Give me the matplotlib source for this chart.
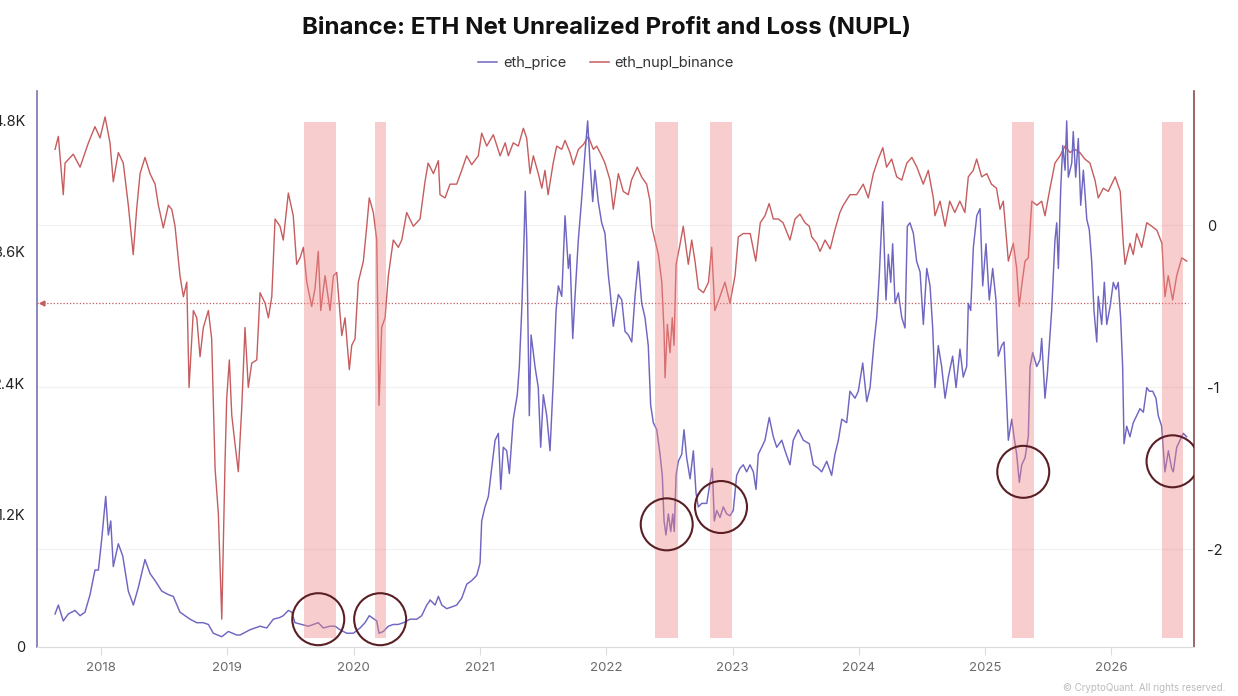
import matplotlib
matplotlib.use("Agg")
import matplotlib.pyplot as plt
from matplotlib.lines import Line2D
from matplotlib.ticker import FuncFormatter
import matplotlib.transforms as mtransforms

plt.rcParams['font.family'] = ['Inter', 'DejaVu Sans']
plt.rcParams['axes.unicode_minus'] = False

title = "Binance: ETH Net Unrealized Profit and Loss (NUPL)"
series_names = ["eth_price", "eth_nupl_binance"]

# ETH price (USD), time in decimal years
price_t = [2017.636, 2017.662, 2017.701, 2017.741, 2017.794, 2017.834, 2017.873, 2017.913, 2017.952, 2017.979,
           2018.006, 2018.037, 2018.058, 2018.077, 2018.097, 2018.137, 2018.172, 2018.216, 2018.256, 2018.295,
           2018.348, 2018.388, 2018.428, 2018.481, 2018.533, 2018.572, 2018.625, 2018.665, 2018.705, 2018.758,
           2018.810, 2018.850, 2018.889, 2018.956, 2019.008, 2019.074, 2019.101, 2019.180, 2019.259, 2019.312,
           2019.364, 2019.417, 2019.443, 2019.483, 2019.510, 2019.536, 2019.589, 2019.641, 2019.681, 2019.720,
           2019.760, 2019.813, 2019.853, 2019.892, 2019.945, 2019.998, 2020.051, 2020.090, 2020.124, 2020.156,
           2020.183, 2020.201, 2020.235, 2020.275, 2020.314, 2020.354, 2020.394, 2020.447, 2020.500, 2020.539,
           2020.579, 2020.599, 2020.605, 2020.645, 2020.671, 2020.698, 2020.737, 2020.777, 2020.816, 2020.856,
           2020.896, 2020.935, 2020.975, 2021.001, 2021.014, 2021.040, 2021.067, 2021.093, 2021.120, 2021.146,
           2021.165, 2021.185, 2021.212, 2021.233, 2021.264, 2021.296, 2021.312, 2021.331, 2021.349, 2021.359,
           2021.371, 2021.383, 2021.391, 2021.405, 2021.423, 2021.436, 2021.462, 2021.481, 2021.502, 2021.529,
           2021.555, 2021.581, 2021.603, 2021.621, 2021.648, 2021.674, 2021.700, 2021.713, 2021.735, 2021.753,
           2021.779, 2021.806, 2021.832, 2021.853, 2021.872, 2021.893, 2021.911, 2021.937, 2021.964, 2021.990,
           2022.017, 2022.030, 2022.056, 2022.096, 2022.123, 2022.149, 2022.175, 2022.202, 2022.228, 2022.254,
           2022.281, 2022.307, 2022.333, 2022.352, 2022.373, 2022.400, 2022.426, 2022.444, 2022.458, 2022.473,
           2022.492, 2022.511, 2022.527, 2022.539, 2022.553, 2022.571, 2022.598, 2022.616, 2022.637, 2022.664,
           2022.690, 2022.711, 2022.729, 2022.756, 2022.796, 2022.822, 2022.840, 2022.856, 2022.875, 2022.901,
           2022.927, 2022.954, 2022.980, 2023.006, 2023.033, 2023.059, 2023.085, 2023.112, 2023.138, 2023.165,
           2023.186, 2023.204, 2023.231, 2023.257, 2023.291, 2023.323, 2023.350, 2023.390, 2023.416, 2023.455,
           2023.481, 2023.521, 2023.561, 2023.608, 2023.640, 2023.679, 2023.706, 2023.746, 2023.785, 2023.811,
           2023.838, 2023.865, 2023.904, 2023.930, 2023.970, 2023.996, 2024.031, 2024.063, 2024.089, 2024.121,
           2024.142, 2024.162, 2024.189, 2024.215, 2024.234, 2024.253, 2024.268, 2024.287, 2024.313, 2024.340,
           2024.366, 2024.384, 2024.405, 2024.432, 2024.458, 2024.485, 2024.511, 2024.538, 2024.564, 2024.585,
           2024.603, 2024.629, 2024.656, 2024.683, 2024.709, 2024.743, 2024.770, 2024.801, 2024.827, 2024.854,
           2024.867, 2024.886, 2024.907, 2024.934, 2024.960, 2024.981, 2025.007, 2025.033, 2025.060, 2025.086,
           2025.104, 2025.131, 2025.150, 2025.171, 2025.184, 2025.211, 2025.229, 2025.250, 2025.271, 2025.290,
           2025.316, 2025.342, 2025.356, 2025.377, 2025.409, 2025.435, 2025.448, 2025.474, 2025.493, 2025.508,
           2025.527, 2025.553, 2025.567, 2025.580, 2025.599, 2025.615, 2025.633, 2025.646, 2025.659, 2025.686,
           2025.698, 2025.717, 2025.738, 2025.757, 2025.778, 2025.805, 2025.825, 2025.844, 2025.862, 2025.884,
           2025.896, 2025.923, 2025.944, 2025.963, 2025.989, 2026.015, 2026.036, 2026.054, 2026.073, 2026.089,
           2026.100, 2026.121, 2026.147, 2026.173, 2026.200, 2026.226, 2026.253, 2026.280, 2026.300, 2026.327,
           2026.353, 2026.371, 2026.398, 2026.424, 2026.451, 2026.477, 2026.490, 2026.517, 2026.543, 2026.569,
           2026.596]
price_v = [297, 378, 233, 297, 329, 281, 313, 473, 697, 697,
           985, 1369, 1017, 1145, 729, 937, 825, 505, 378, 537,
           793, 665, 601, 505, 473, 457, 313, 281, 249, 217,
           217, 201, 121, 89, 137, 105, 105, 153, 185, 169,
           249, 265, 281, 329, 313, 217, 201, 185, 201, 217,
           169, 185, 185, 153, 121, 121, 169, 217, 281, 255,
           233, 121, 137, 185, 201, 201, 217, 249, 249, 281,
           378, 409, 425, 378, 457, 378, 345, 361, 378, 441,
           569, 601, 649, 761, 1145, 1273, 1369, 1625, 1881, 1944,
           1433, 1817, 1785, 1577, 2073, 2296, 2553, 3064, 3704, 4152,
           3704, 2744, 2105, 2841, 2680, 2553, 2361, 1817, 2296, 2105,
           1785, 2425, 3064, 3289, 3193, 3928, 3448, 3576, 2809, 3193,
           3704, 4089, 4504, 4793, 4409, 4057, 4344, 4057, 3864, 3768,
           3384, 3250, 2920, 3210, 3161, 2873, 2841, 2777, 3193, 3512,
           3129, 3000, 2744, 2201, 2041, 1977, 1753, 1561, 1145, 1017,
           1209, 1049, 1209, 1049, 1561, 1689, 1753, 1977, 1721, 1529,
           1785, 1401, 1273, 1305, 1305, 1497, 1625, 1145, 1241, 1177,
           1273, 1209, 1193, 1241, 1561, 1625, 1657, 1593, 1657, 1593,
           1433, 1753, 1817, 1881, 2089, 1913, 1817, 1881, 1785, 1657,
           1881, 1977, 1881, 1849, 1657, 1625, 1593, 1689, 1561, 1753,
           1881, 2073, 2041, 2328, 2264, 2328, 2585, 2233, 2361, 2777,
           3000, 3384, 4057, 3160, 3576, 3321, 3673, 3129, 3225, 3000,
           2905, 3832, 3864, 3768, 3512, 3416, 2937, 3448, 3289, 2905,
           2361, 2744, 2553, 2264, 2457, 2648, 2361, 2712, 2457, 2553,
           3129, 3064, 3640, 3928, 3993, 3289, 3673, 3160, 3448, 3160,
           2648, 2744, 2777, 2233, 1881, 2073, 1913, 1753, 1497, 1657,
           1721, 1913, 2553, 2680, 2553, 2617, 2809, 2264, 2489, 2744,
           3064, 3704, 3864, 3448, 4184, 4568, 4344, 4793, 4280, 4409,
           4696, 4280, 4632, 4024, 4344, 3896, 3800, 3512, 3064, 2777,
           3193, 2937, 3321, 2937, 3096, 3321, 3257, 3321, 3000, 2553,
           1849, 2009, 1913, 2041, 2105, 2169, 2137, 2361, 2328, 2328,
           2264, 2105, 2009, 1593, 1785, 1625, 1593, 1817, 1881, 1944,
           1913]

# Binance ETH NUPL
nupl_t = [2017.636, 2017.662, 2017.701, 2017.715, 2017.780, 2017.834, 2017.900, 2017.952, 2017.992, 2018.032,
          2018.071, 2018.097, 2018.137, 2018.176, 2018.216, 2018.255, 2018.282, 2018.309, 2018.348, 2018.388,
          2018.428, 2018.454, 2018.493, 2018.533, 2018.560, 2018.586, 2018.625, 2018.652, 2018.679, 2018.697,
          2018.731, 2018.758, 2018.784, 2018.810, 2018.850, 2018.876, 2018.903, 2018.929, 2018.956, 2018.982,
          2018.995, 2019.016, 2019.035, 2019.061, 2019.087, 2019.114, 2019.140, 2019.166, 2019.193, 2019.233,
          2019.259, 2019.299, 2019.325, 2019.352, 2019.378, 2019.417, 2019.443, 2019.483, 2019.522, 2019.549,
          2019.576, 2019.602, 2019.629, 2019.668, 2019.694, 2019.720, 2019.740, 2019.774, 2019.813, 2019.840,
          2019.866, 2019.906, 2019.932, 2019.966, 2019.985, 2020.011, 2020.037, 2020.077, 2020.104, 2020.124,
          2020.156, 2020.183, 2020.201, 2020.222, 2020.249, 2020.275, 2020.314, 2020.354, 2020.381, 2020.420,
          2020.473, 2020.526, 2020.565, 2020.590, 2020.632, 2020.671, 2020.684, 2020.724, 2020.763, 2020.816,
          2020.856, 2020.895, 2020.935, 2020.987, 2021.014, 2021.054, 2021.106, 2021.160, 2021.200, 2021.225,
          2021.264, 2021.304, 2021.344, 2021.370, 2021.397, 2021.423, 2021.462, 2021.490, 2021.515, 2021.540,
          2021.580, 2021.608, 2021.648, 2021.674, 2021.713, 2021.740, 2021.780, 2021.820, 2021.858, 2021.898,
          2021.925, 2021.964, 2021.990, 2022.030, 2022.056, 2022.096, 2022.135, 2022.175, 2022.200, 2022.246,
          2022.280, 2022.320, 2022.347, 2022.360, 2022.386, 2022.413, 2022.440, 2022.458, 2022.466, 2022.484,
          2022.505, 2022.523, 2022.537, 2022.553, 2022.580, 2022.610, 2022.650, 2022.677, 2022.703, 2022.730,
          2022.770, 2022.810, 2022.835, 2022.860, 2022.900, 2022.940, 2022.980, 2023.020, 2023.046, 2023.085,
          2023.140, 2023.184, 2023.220, 2023.257, 2023.290, 2023.323, 2023.363, 2023.400, 2023.455, 2023.495,
          2023.534, 2023.574, 2023.608, 2023.627, 2023.667, 2023.693, 2023.733, 2023.773, 2023.810, 2023.850,
          2023.877, 2023.930, 2023.983, 2024.035, 2024.075, 2024.115, 2024.154, 2024.190, 2024.220, 2024.260,
          2024.300, 2024.340, 2024.380, 2024.420, 2024.460, 2024.510, 2024.550, 2024.590, 2024.603, 2024.643,
          2024.683, 2024.720, 2024.760, 2024.800, 2024.840, 2024.867, 2024.906, 2024.933, 2024.973, 2025.013,
          2025.050, 2025.090, 2025.118, 2025.144, 2025.184, 2025.223, 2025.250, 2025.270, 2025.290, 2025.316,
          2025.342, 2025.370, 2025.410, 2025.448, 2025.474, 2025.514, 2025.553, 2025.593, 2025.633, 2025.672,
          2025.710, 2025.750, 2025.790, 2025.830, 2025.870, 2025.896, 2025.936, 2025.975, 2026.030, 2026.070,
          2026.094, 2026.108, 2026.147, 2026.173, 2026.200, 2026.240, 2026.280, 2026.320, 2026.360, 2026.400,
          2026.424, 2026.450, 2026.485, 2026.517, 2026.557, 2026.597]
nupl_v = [0.47, 0.55, 0.19, 0.385, 0.44, 0.36, 0.51, 0.61, 0.54, 0.67,
          0.51, 0.27, 0.45, 0.385, 0.125, -0.18, 0.10, 0.32, 0.42, 0.32,
          0.255, 0.125, -0.015, 0.125, 0.10, -0.005, -0.31, -0.44, -0.35, -1.00,
          -0.525, -0.57, -0.81, -0.63, -0.525, -0.70, -1.50, -1.78, -2.43, -1.455,
          -1.07, -0.83, -1.17, -1.35, -1.52, -1.13, -0.63, -1.00, -0.85, -0.83,
          -0.415, -0.48, -0.57, -0.44, 0.04, -0.005, -0.09, 0.20, 0.06, -0.24,
          -0.20, -0.135, -0.35, -0.50, -0.39, -0.16, -0.525, -0.31, -0.525, -0.31,
          -0.29, -0.68, -0.57, -0.89, -0.74, -0.70, -0.35, -0.22, -0.005, 0.17,
          0.08, -0.09, -1.11, -0.63, -0.57, -0.31, -0.09, -0.135, -0.09, 0.08,
          -0.005, 0.04, 0.27, 0.385, 0.32, 0.40, 0.19, 0.17, 0.255, 0.255,
          0.34, 0.43, 0.375, 0.43, 0.57, 0.49, 0.56, 0.43, 0.51, 0.43,
          0.51, 0.49, 0.60, 0.54, 0.32, 0.43, 0.32, 0.23, 0.34, 0.19,
          0.385, 0.49, 0.47, 0.525, 0.45, 0.375, 0.47, 0.50, 0.55, 0.47,
          0.49, 0.43, 0.385, 0.28, 0.10, 0.32, 0.21, 0.19, 0.28, 0.36,
          0.30, 0.255, 0.15, -0.005, -0.09, -0.18, -0.35, -0.655, -0.94, -0.61,
          -0.785, -0.57, -0.74, -0.24, -0.135, -0.005, -0.24, -0.09, -0.22, -0.39,
          -0.415, -0.35, -0.135, -0.525, -0.44, -0.35, -0.48, -0.31, -0.07, -0.05,
          -0.05, -0.22, 0.017, 0.06, 0.135, 0.04, 0.04, 0.017, -0.09, 0.04,
          0.07, 0.017, -0.005, -0.07, -0.11, -0.16, -0.09, -0.145, -0.03, 0.08,
          0.125, 0.19, 0.19, 0.255, 0.17, 0.32, 0.41, 0.48, 0.36, 0.41,
          0.30, 0.28, 0.385, 0.42, 0.36, 0.255, 0.34, 0.17, 0.06, 0.15,
          -0.005, 0.15, 0.08, 0.15, 0.08, 0.30, 0.34, 0.41, 0.30, 0.32,
          0.255, 0.23, 0.10, 0.15, -0.22, -0.11, -0.265, -0.50, -0.37, -0.22,
          -0.20, 0.15, 0.125, 0.15, 0.06, 0.23, 0.385, 0.43, 0.49, 0.45,
          0.47, 0.45, 0.41, 0.385, 0.28, 0.17, 0.23, 0.21, 0.30, 0.21,
          -0.11, -0.24, -0.11, -0.18, -0.05, -0.135, 0.017, -0.005, -0.03, -0.11,
          -0.44, -0.31, -0.46, -0.31, -0.20, -0.22]

# Highlighted periods (start, end) in decimal years
band_start = [2019.607, 2020.169, 2022.386, 2022.820, 2025.215, 2026.398]
band_end = [2019.861, 2020.253, 2022.566, 2022.998, 2025.390, 2026.570]

# Circled price lows (time, price)
circle_t = [2019.720, 2020.210, 2022.479, 2022.909, 2025.302, 2026.484]
circle_p = [249, 249, 1114, 1272, 1593, 1689]

# Reference NUPL level (dotted line)
nupl_ref = -0.481

year_ticks = [2018, 2019, 2020, 2021, 2022, 2023, 2024, 2025, 2026]
price_ticks = [0, 1200, 2400, 3600, 4800]
nupl_ticks = [0, -1, -2]

PRICE_C = '#6f66c2'
NUPL_C = '#c65c5e'

W, H = 1238, 696
fig = plt.figure(figsize=(W / 100, H / 100), dpi=100)
L, R, T, B = 37, 1194, 91, 646.5
ax = fig.add_axes([L / W, (H - B) / H, (R - L) / W, (B - T) / H])
ax2 = ax.twinx()
ax.set_zorder(ax2.get_zorder() + 1)
ax.patch.set_visible(False)

ax2.plot(nupl_t, nupl_v, color=NUPL_C, lw=1.0, zorder=2)
ax.plot(price_t, price_v, color=PRICE_C, lw=1.05, zorder=2)

ax.set_xlim(2017.493, 2026.654)
ax.set_ylim(0, 5066)
ax2.set_ylim(-2.599, 0.830)

for s, e in zip(band_start, band_end):
    ax.axvspan(s, e, ymin=0.0153, ymax=0.944, color='#f08888', alpha=0.42, lw=0, zorder=3)

ax.scatter(circle_t, circle_p, s=1400, facecolors='none', edgecolors='#5a1f24',
           linewidths=1.5, zorder=5)

ax2.axhline(nupl_ref, xmax=0.995, color=NUPL_C, lw=0.9, ls=(0, (1, 1.6)), zorder=1)
tr = mtransforms.blended_transform_factory(ax2.transAxes, ax2.transData)
ax2.plot([0.004], [nupl_ref], marker='<', ms=3.5, color=NUPL_C, transform=tr,
         clip_on=False, zorder=1)

# grid from NUPL axis
ax2.set_yticks(nupl_ticks)
for v in nupl_ticks:
    ax2.axhline(v, color='#f1f1f1', lw=0.9, zorder=0)

ax.set_xticks(year_ticks)
ax.set_xticklabels([str(y) for y in year_ticks])
ax.set_yticks(price_ticks)
ax.yaxis.set_major_formatter(FuncFormatter(lambda v, p: '0' if v == 0 else f'{v/1000:.1f}K'))
ax2.yaxis.set_major_formatter(FuncFormatter(lambda v, p: f'{int(v)}'))

ax.tick_params(axis='x', colors='#dcdcdc', length=6, width=0.8, labelcolor='#6a6a6a',
               labelsize=9.5, pad=5)
ax.tick_params(axis='y', length=0, labelsize=10.5, labelcolor='#222222', pad=8.5)
ax2.tick_params(axis='y', length=0, labelsize=10.5, labelcolor='#222222', pad=9.5)

for a in (ax, ax2):
    a.spines['top'].set_visible(False)
    a.spines['bottom'].set_color('#dcdcdc')
    a.spines['left'].set_color('#7a74b0')
    a.spines['right'].set_color('#8b4c4c')
    a.spines['left'].set_linewidth(1.2)
    a.spines['right'].set_linewidth(1.2)
ax2.spines['left'].set_visible(False)
ax.spines['right'].set_visible(False)

fig.text(606 / W, 1 - 28 / H, title, ha='center', va='center', fontsize=17.3,
         fontweight='bold', color='#111111')

handles = [Line2D([0], [0], color=PRICE_C, lw=1.1), Line2D([0], [0], color=NUPL_C, lw=1.1)]
fig.legend(handles, series_names, loc='center', bbox_to_anchor=(606 / W, 1 - 63 / H), ncol=2,
           frameon=False, fontsize=10.5, handlelength=1.3, handletextpad=0.4,
           columnspacing=1.6, labelcolor='#333333')

fig.text(1225 / W, 1 - 688 / H, '© CryptoQuant. All rights reserved.', ha='right', va='center',
         fontsize=7, color='#bbbbbb')

fig.savefig('out.png', dpi=100)
